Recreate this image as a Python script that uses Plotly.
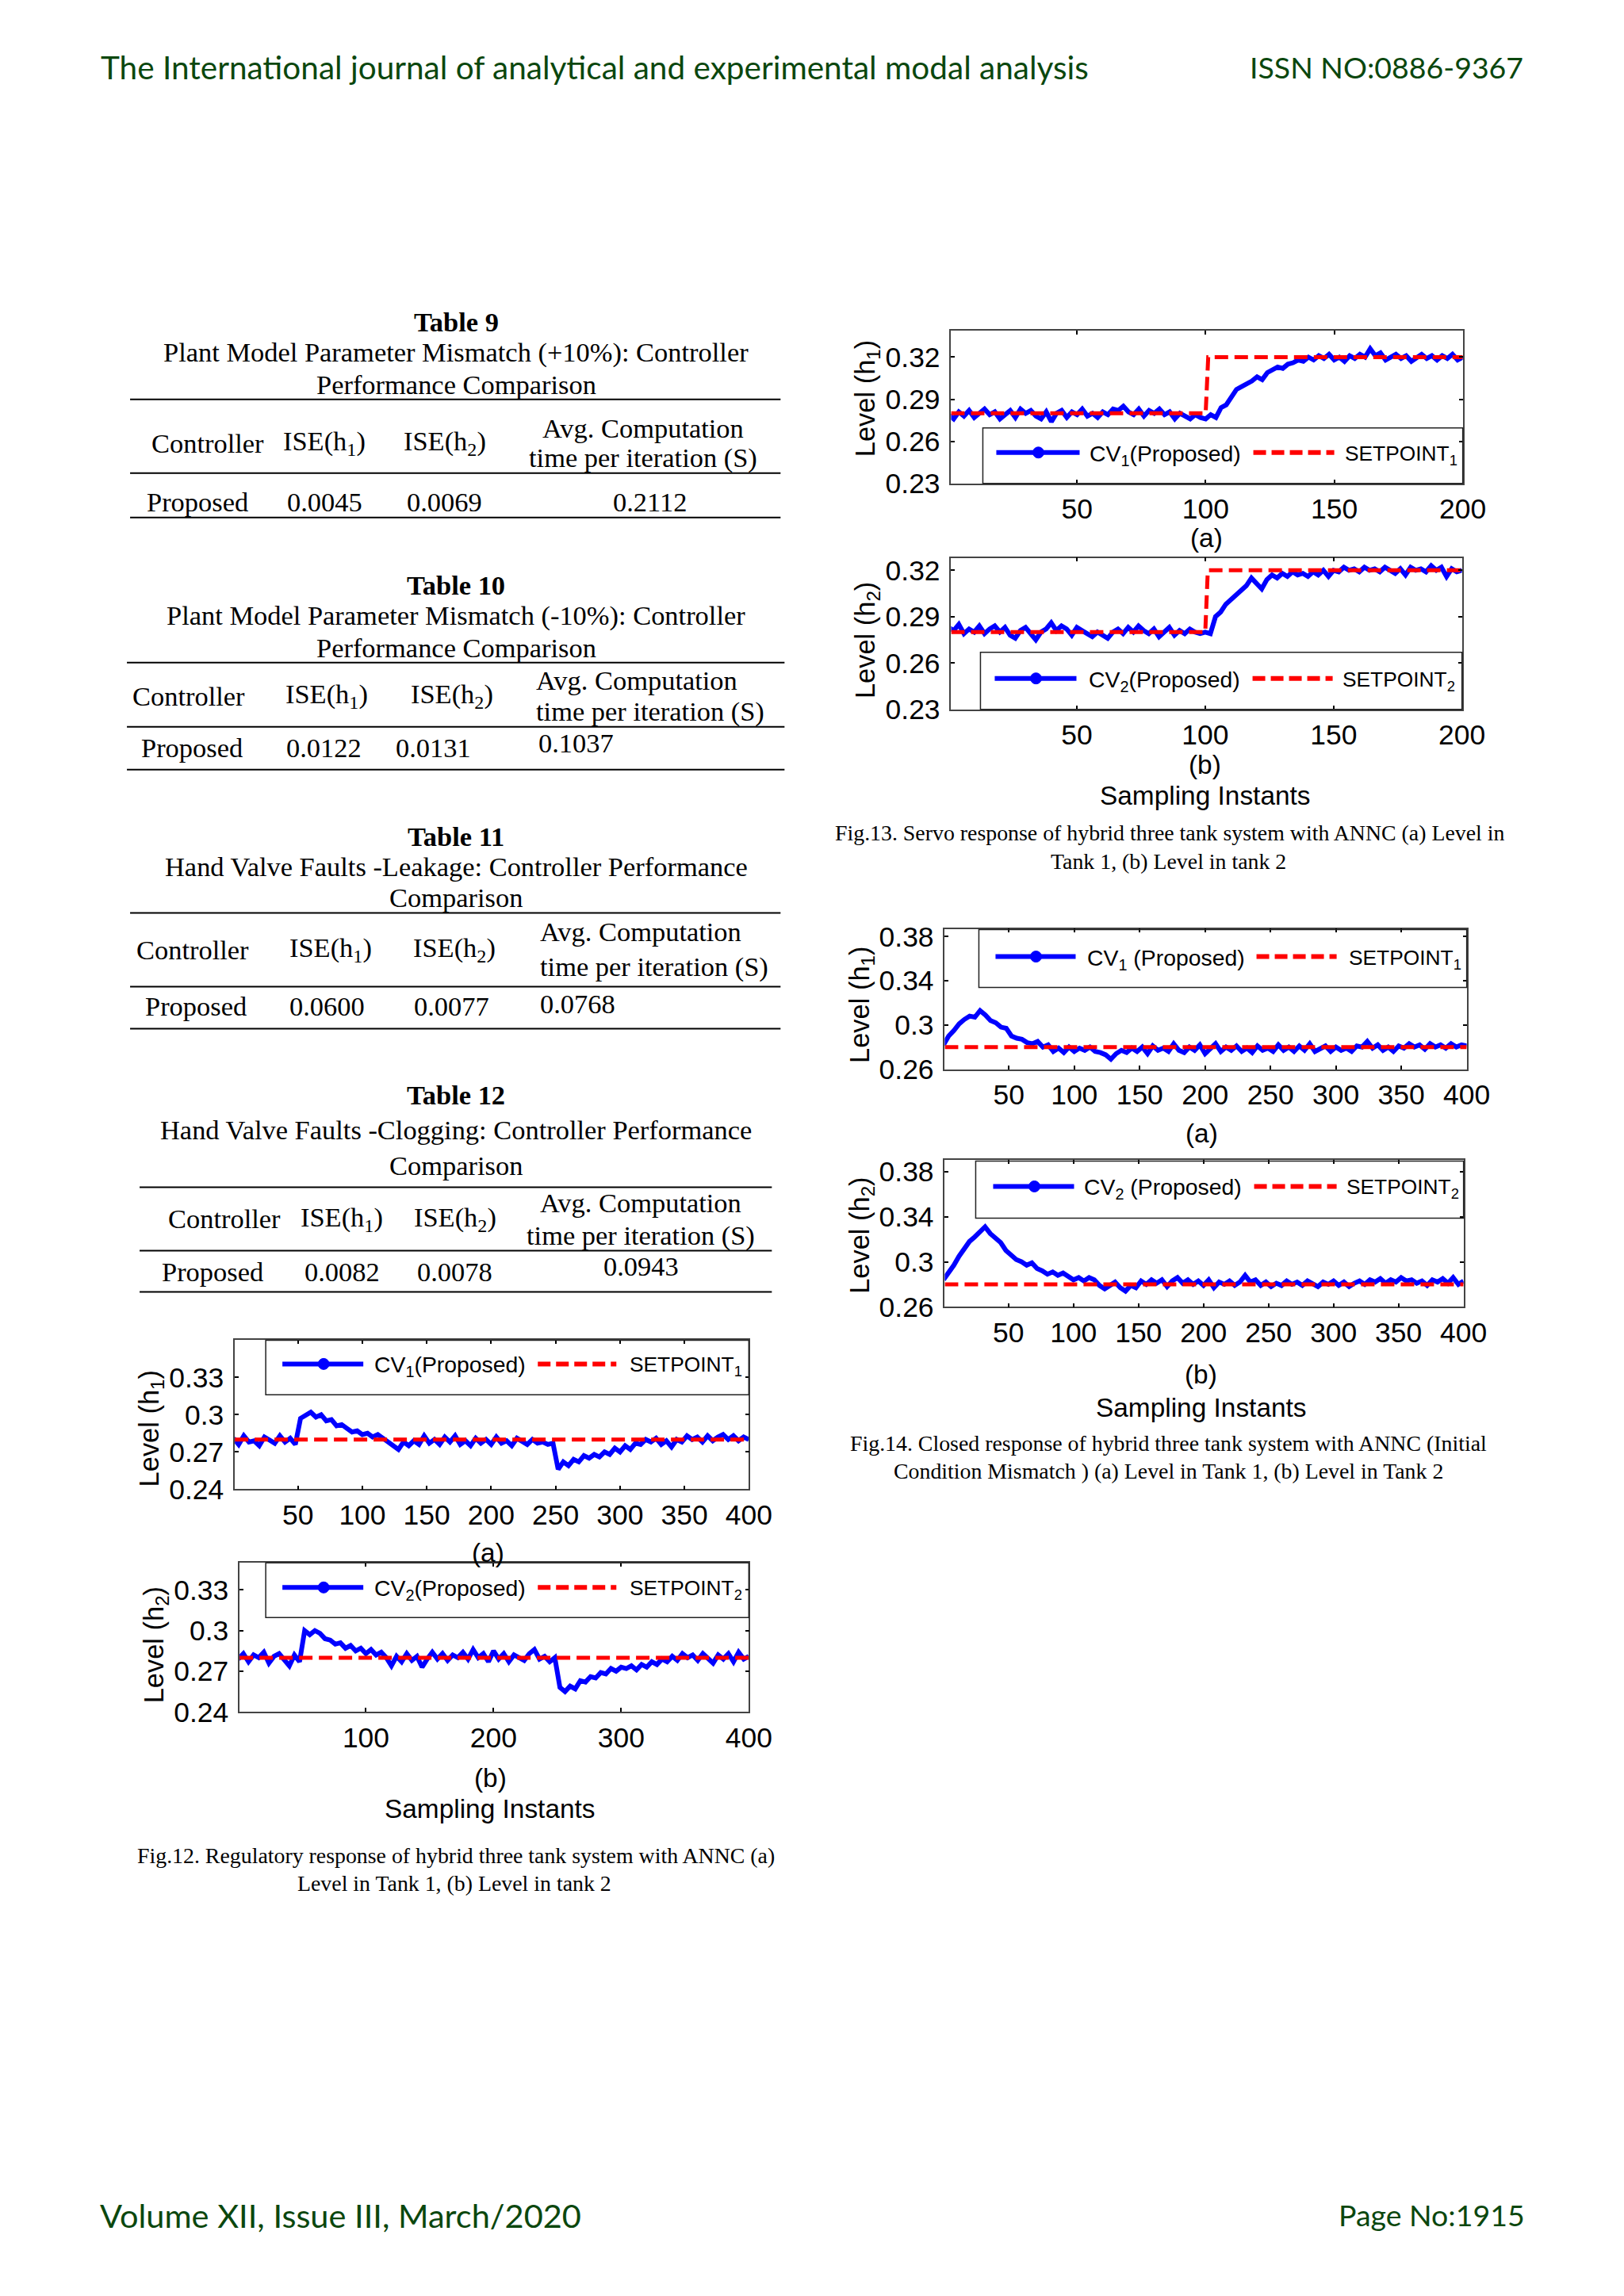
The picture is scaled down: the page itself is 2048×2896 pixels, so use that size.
import plotly.graph_objects as go

W, H = 2048, 2896

# ---------------- data ----------------
# Fig.12 regulatory response, samples every 4 instants (0..400)
fig12_cv1 = [0.281, 0.276, 0.283, 0.278, 0.279, 0.275, 0.282, 0.280, 0.277, 0.283, 0.278, 0.281, 0.276,
             0.297, 0.299, 0.302, 0.298, 0.300, 0.295, 0.296, 0.291, 0.292, 0.289, 0.286, 0.287, 0.284,
             0.285, 0.282, 0.284, 0.281, 0.279, 0.276, 0.272, 0.278, 0.275, 0.279, 0.276, 0.283, 0.277,
             0.280, 0.276, 0.282, 0.278, 0.283, 0.276, 0.279, 0.275, 0.281, 0.277, 0.280, 0.276, 0.282,
             0.277, 0.279, 0.275, 0.281, 0.278, 0.276, 0.280, 0.277, 0.278, 0.276, 0.277,
             0.256, 0.262, 0.259, 0.264, 0.262, 0.267, 0.265, 0.268, 0.266, 0.270, 0.268, 0.273, 0.270,
             0.275, 0.272, 0.277, 0.276, 0.280, 0.278, 0.281, 0.276, 0.279, 0.274, 0.280, 0.278, 0.283,
             0.280, 0.282, 0.278, 0.283, 0.279, 0.282, 0.284, 0.280, 0.283, 0.279, 0.282, 0.280]
fig12_cv2 = [0.279, 0.283, 0.277, 0.282, 0.280, 0.284, 0.276, 0.281, 0.283, 0.278, 0.274, 0.282, 0.277,
             0.300, 0.297, 0.300, 0.298, 0.294, 0.293, 0.290, 0.291, 0.287, 0.289, 0.285, 0.287, 0.283,
             0.286, 0.282, 0.284, 0.280, 0.274, 0.281, 0.277, 0.283, 0.278, 0.281, 0.273, 0.279, 0.284,
             0.279, 0.283, 0.278, 0.282, 0.280, 0.284, 0.279, 0.286, 0.280, 0.283, 0.277, 0.285, 0.279,
             0.283, 0.277, 0.282, 0.280, 0.278, 0.283, 0.286, 0.279, 0.281, 0.277, 0.280,
             0.258, 0.255, 0.259, 0.257, 0.263, 0.262, 0.266, 0.265, 0.269, 0.268, 0.272, 0.270, 0.273,
             0.272, 0.274, 0.271, 0.275, 0.273, 0.277, 0.275, 0.279, 0.277, 0.281, 0.278, 0.283, 0.280,
             0.282, 0.278, 0.283, 0.280, 0.276, 0.282, 0.279, 0.283, 0.277, 0.284, 0.279, 0.281]
fig12_sp_x = [1, 400]
fig12_sp = [0.28, 0.28]

# Fig.13 servo response, samples every 2 instants (0..200)
fig13_cv1 = [0.279, 0.276, 0.281, 0.278, 0.282, 0.277, 0.280, 0.283, 0.279, 0.281,
             0.276, 0.279, 0.282, 0.277, 0.283, 0.280, 0.282, 0.278, 0.276, 0.281,
             0.274, 0.280, 0.282, 0.277, 0.281, 0.279, 0.283, 0.278, 0.280, 0.277,
             0.281, 0.279, 0.283, 0.282, 0.285, 0.281, 0.279, 0.283, 0.278, 0.282,
             0.280, 0.283, 0.279, 0.281, 0.276, 0.280, 0.278, 0.276, 0.279, 0.277,
             0.276, 0.279, 0.277, 0.284, 0.286, 0.292, 0.297, 0.299, 0.301, 0.303,
             0.306, 0.304, 0.309, 0.311, 0.313, 0.312, 0.315, 0.316, 0.318, 0.317,
             0.320, 0.318, 0.321, 0.319, 0.322, 0.318, 0.320, 0.317, 0.321, 0.319,
             0.322, 0.320, 0.326, 0.321, 0.323, 0.318, 0.320, 0.322, 0.319, 0.321,
             0.317, 0.320, 0.322, 0.319, 0.321, 0.318, 0.321, 0.319, 0.322, 0.318, 0.320]
fig13_cv2 = [0.283, 0.281, 0.285, 0.279, 0.282, 0.280, 0.284, 0.279, 0.282, 0.284,
             0.280, 0.283, 0.278, 0.276, 0.281, 0.283, 0.279, 0.275, 0.280, 0.282,
             0.286, 0.281, 0.284, 0.282, 0.278, 0.283, 0.281, 0.279, 0.277, 0.280,
             0.278, 0.276, 0.280, 0.282, 0.279, 0.283, 0.280, 0.284, 0.281, 0.279,
             0.282, 0.277, 0.280, 0.283, 0.278, 0.281, 0.279, 0.282, 0.280, 0.279,
             0.280, 0.279, 0.290, 0.293, 0.298, 0.301, 0.304, 0.308, 0.310, 0.315,
             0.311, 0.308, 0.314, 0.317, 0.315, 0.318, 0.316, 0.319, 0.317, 0.318,
             0.316, 0.319, 0.317, 0.320, 0.316, 0.320, 0.319, 0.322, 0.320, 0.321,
             0.319, 0.322, 0.320, 0.321, 0.319, 0.322, 0.320, 0.318, 0.321, 0.317,
             0.322, 0.320, 0.321, 0.319, 0.323, 0.320, 0.322, 0.316, 0.321, 0.319, 0.320]
fig13_sp_x = [1, 100, 101, 200]
fig13_sp = [0.28, 0.28, 0.32, 0.32]

# Fig.14 initial-condition mismatch, samples every 4 instants (0..400)
fig14_cv1 = [0.282, 0.290, 0.295, 0.301, 0.305, 0.308, 0.307, 0.313, 0.309, 0.304, 0.302, 0.298, 0.297,
             0.290, 0.288, 0.287, 0.284, 0.283, 0.285, 0.280, 0.282,
             0.276, 0.279, 0.275, 0.280, 0.276, 0.279, 0.277, 0.280, 0.276, 0.275, 0.273, 0.269, 0.274,
             0.277, 0.275, 0.279, 0.276, 0.280, 0.274, 0.281, 0.277, 0.279, 0.276, 0.283, 0.277, 0.275,
             0.280, 0.277, 0.282, 0.274, 0.279, 0.283, 0.276, 0.280, 0.277, 0.281, 0.276, 0.279, 0.275,
             0.281, 0.277, 0.279, 0.276, 0.282, 0.277, 0.280, 0.276, 0.281, 0.277, 0.283, 0.276, 0.279,
             0.281, 0.276, 0.280, 0.277, 0.279, 0.276, 0.281, 0.280, 0.285, 0.279, 0.282, 0.277, 0.280,
             0.276, 0.281, 0.279, 0.283, 0.280, 0.282, 0.278, 0.283, 0.280, 0.282, 0.279, 0.283, 0.280,
             0.282, 0.281]
fig14_cv2 = [0.284, 0.290, 0.297, 0.305, 0.311, 0.318, 0.322, 0.326, 0.331, 0.325, 0.321, 0.317, 0.310,
             0.306, 0.302, 0.300, 0.297, 0.299, 0.294, 0.292, 0.289, 0.291, 0.288, 0.290, 0.287, 0.284,
             0.286, 0.283, 0.286, 0.284, 0.279, 0.276, 0.279, 0.282, 0.277, 0.274, 0.279, 0.277, 0.283,
             0.280, 0.284, 0.281, 0.284, 0.278, 0.283, 0.286, 0.281, 0.284, 0.280, 0.283, 0.279, 0.284,
             0.277, 0.282, 0.280, 0.283, 0.279, 0.282, 0.288, 0.282, 0.284, 0.279, 0.282, 0.278, 0.281,
             0.279, 0.283, 0.280, 0.282, 0.279, 0.283, 0.281, 0.278, 0.282, 0.280, 0.283, 0.279, 0.282,
             0.278, 0.281, 0.283, 0.280, 0.284, 0.282, 0.285, 0.281, 0.284, 0.282, 0.286, 0.283, 0.284,
             0.281, 0.283, 0.279, 0.284, 0.282, 0.285, 0.281, 0.286, 0.280, 0.283]
fig14_sp_x = [1, 400]
fig14_sp = [0.28, 0.28]

# Table contents
table_titles = ["Table 9", "Table 10", "Table 11", "Table 12"]
table_subtitles = [
    ["Plant Model Parameter Mismatch (+10%): Controller", "Performance Comparison"],
    ["Plant Model Parameter Mismatch (-10%): Controller", "Performance Comparison"],
    ["Hand Valve Faults -Leakage: Controller Performance", "Comparison"],
    ["Hand Valve Faults -Clogging: Controller Performance", "Comparison"],
]
table_controller = ["Proposed", "Proposed", "Proposed", "Proposed"]
table_ise_h1 = ["0.0045", "0.0122", "0.0600", "0.0082"]
table_ise_h2 = ["0.0069", "0.0131", "0.0077", "0.0078"]
table_avg_time = ["0.2112", "0.1037", "0.0768", "0.0943"]

# ---------------- helpers ----------------
# page-position compensation for the photographed page (measured drift)
SX, SY, OY = 1 / 0.985, 1 / 0.990, 12
FS = 1.013

def fx(px):
    return px * SX / W

def fy(py):
    return 1 - (py - OY) * SY / H

def fs(size):
    return size * FS

SANS = "Liberation Sans, Arial, sans-serif"
SERIF = "Liberation Serif, Times New Roman, serif"
HEAD = "Lato, Open Sans, sans-serif"
GREEN = "#0b470e"

annotations = []
shapes = []

def text(t, x, y, size, family=SANS, xanchor="center", color="black", angle=0, weight=None):
    font = dict(size=fs(size), family=family, color=color)
    if weight is not None:
        font["weight"] = weight
    annotations.append(dict(text=t, x=fx(x), y=fy(y), xref="paper", yref="paper",
                            xanchor=xanchor, yanchor="middle", showarrow=False,
                            textangle=angle, font=font))

def hline(x0, x1, y, width=2, color="black", dash="solid"):
    shapes.append(dict(type="line", xref="paper", yref="paper", x0=fx(x0), x1=fx(x1),
                       y0=fy(y), y1=fy(y), line=dict(color=color, width=width, dash=dash)))

# ---------------- header / footer ----------------
text("The International journal of analytical and experimental modal analysis", 125, 87, 40, HEAD, "left", GREEN)
text("ISSN NO:0886-9367", 1922, 87, 37, HEAD, "right", GREEN)
text("Volume XII, Issue III, March/2020", 124, 2797, 41, HEAD, "left", GREEN)
text("Page No:1915", 1924, 2797, 37, HEAD, "right", GREEN)

# ---------------- tables ----------------
TS = 34
tables_geo = [
    dict(title_y=408, sub_y=(447, 487), rules=(506, 599, 655), rx=(164, 984),
         hdr_y=561, avg_y=(542, 580), row_y=635, val_y=635,
         cx=(262, 409, 561), avg_x=811, avg_anchor="center", val_x=819,
         rowx=(249, 409, 560)),
    dict(title_y=740, sub_y=(779, 819), rules=(838, 919, 973), rx=(160, 989),
         hdr_y=880, avg_y=(860, 900), row_y=945, val_y=939,
         cx=(238, 412, 570), avg_x=674, avg_anchor="left", val_x=677,
         rowx=(242, 408, 546)),
    dict(title_y=1057, sub_y=(1095, 1134), rules=(1154, 1247, 1300), rx=(164, 984),
         hdr_y=1200, avg_y=(1177, 1222), row_y=1271, val_y=1268,
         cx=(243, 417, 573), avg_x=679, avg_anchor="left", val_x=679,
         rowx=(247, 412, 569)),
    dict(title_y=1383, sub_y=(1428, 1473), rules=(1500, 1580, 1632), rx=(176, 973),
         hdr_y=1540, avg_y=(1520, 1561), row_y=1607, val_y=1600,
         cx=(283, 431, 574), avg_x=808, avg_anchor="center", val_x=808,
         rowx=(268, 431, 573)),
]
for i, g in enumerate(tables_geo):
    text("<b>%s</b>" % table_titles[i], 575, g["title_y"], TS, SERIF)
    text(table_subtitles[i][0], 575, g["sub_y"][0], TS, SERIF)
    text(table_subtitles[i][1], 575, g["sub_y"][1], TS, SERIF)
    for r in g["rules"]:
        hline(g["rx"][0], g["rx"][1], r, 2)
    text("Controller", g["cx"][0], g["hdr_y"], TS, SERIF)
    text("ISE(h<sub>1</sub>)", g["cx"][1], g["hdr_y"], TS, SERIF)
    text("ISE(h<sub>2</sub>)", g["cx"][2], g["hdr_y"], TS, SERIF)
    text("Avg. Computation", g["avg_x"], g["avg_y"][0], TS, SERIF, g["avg_anchor"])
    text("time per iteration (S)", g["avg_x"], g["avg_y"][1], TS, SERIF, g["avg_anchor"])
    text(table_controller[i], g["rowx"][0], g["row_y"], TS, SERIF)
    text(table_ise_h1[i], g["rowx"][1], g["row_y"], TS, SERIF)
    text(table_ise_h2[i], g["rowx"][2], g["row_y"], TS, SERIF)
    text(table_avg_time[i], g["val_x"], g["val_y"], TS, SERIF, g["avg_anchor"])

# ---------------- plots ----------------
idx4 = lambda n: [4 * k for k in range(n)]
idx2 = lambda n: [2 * k for k in range(n)]

panels = [
    dict(box=(296, 944, 1693, 1881), xr=[1, 400], yr=[0.24, 0.36],
         xt=[50, 100, 150, 200, 250, 300, 350, 400], yt=[0.24, 0.27, 0.30, 0.33],
         ytl=["0.24", "0.27", "0.3", "0.33"],
         cx=idx4(len(fig12_cv1)), cy=fig12_cv1, sx=fig12_sp_x, sy=fig12_sp,
         sub="1", cvsep="", leg=(335, 1693, 1762, 1723), legx=(356, 458, 408, 470, 678, 777, 792),
         ytitle=(190, 1805)),
    dict(box=(302, 944, 1974, 2162), xr=[1, 400], yr=[0.24, 0.35],
         xt=[100, 200, 300, 400], yt=[0.24, 0.27, 0.30, 0.33],
         ytl=["0.24", "0.27", "0.3", "0.33"],
         cx=idx4(len(fig12_cv2)), cy=fig12_cv2, sx=fig12_sp_x, sy=fig12_sp,
         sub="2", cvsep="", leg=(335, 1974, 2043, 2005), legx=(356, 458, 408, 470, 678, 777, 792),
         ytitle=(196, 2078)),
    dict(box=(1199, 1844, 419, 612), xr=[1, 200], yr=[0.23, 0.339],
         xt=[50, 100, 150, 200], yt=[0.23, 0.26, 0.29, 0.32],
         ytl=["0.23", "0.26", "0.29", "0.32"],
         cx=idx2(len(fig13_cv1)), cy=fig13_cv1, sx=fig13_sp_x, sy=fig13_sp,
         sub="1", cvsep="", leg=(1239, 542, 612, 573), legx=(1256, 1361, 1309, 1372, 1580, 1682, 1693),
         ytitle=(1093, 505)),
    dict(box=(1199, 1843, 706, 897), xr=[1, 200], yr=[0.23, 0.328],
         xt=[50, 100, 150, 200], yt=[0.23, 0.26, 0.29, 0.32],
         ytl=["0.23", "0.26", "0.29", "0.32"],
         cx=idx2(len(fig13_cv2)), cy=fig13_cv2, sx=fig13_sp_x, sy=fig13_sp,
         sub="2", cvsep="", leg=(1236, 825, 897, 858), legx=(1254, 1357, 1306, 1371, 1579, 1680, 1690),
         ytitle=(1093, 810)),
    dict(box=(1191, 1849, 1174, 1351), xr=[1, 400], yr=[0.26, 0.387],
         xt=[50, 100, 150, 200, 250, 300, 350, 400], yt=[0.26, 0.30, 0.34, 0.38],
         ytl=["0.26", "0.3", "0.34", "0.38"],
         cx=idx4(len(fig14_cv1)), cy=fig14_cv1, sx=fig14_sp_x, sy=fig14_sp,
         sub="1", cvsep=" ", leg=(1234, 1175, 1248, 1209), legx=(1255, 1356, 1306, 1369, 1584, 1685, 1698),
         ytitle=(1086, 1270)),
    dict(box=(1191, 1845, 1466, 1651), xr=[1, 400], yr=[0.26, 0.39],
         xt=[50, 100, 150, 200, 250, 300, 350, 400], yt=[0.26, 0.30, 0.34, 0.38],
         ytl=["0.26", "0.3", "0.34", "0.38"],
         cx=idx4(len(fig14_cv2)), cy=fig14_cv2, sx=fig14_sp_x, sy=fig14_sp,
         sub="2", cvsep=" ", leg=(1230, 1467, 1539, 1499), legx=(1252, 1354, 1304, 1365, 1581, 1685, 1695),
         ytitle=(1086, 1561)),
]

fig = go.Figure()
layout_axes = {}
for i, p in enumerate(panels):
    n = "" if i == 0 else str(i + 1)
    xa, ya = "x" + n, "y" + n
    x0, x1, y0, y1 = p["box"]
    fig.add_trace(go.Scatter(x=p["cx"], y=p["cy"], mode="lines", xaxis=xa, yaxis=ya,
                             line=dict(color="#0000ff", width=6), showlegend=False,
                             hoverinfo="skip"))
    fig.add_trace(go.Scatter(x=p["sx"], y=p["sy"], mode="lines", xaxis=xa, yaxis=ya,
                             line=dict(color="#ff0000", width=5, dash="17px,8px"),
                             showlegend=False, hoverinfo="skip"))
    common = dict(showline=True, linecolor="#444", linewidth=1.5, mirror="ticks",
                  ticks="inside", ticklen=5, tickwidth=2, tickcolor="black",
                  showgrid=False, zeroline=False, fixedrange=True,
                  tickfont=dict(size=fs(35), family=SANS, color="black"))
    layout_axes["xaxis" + n] = dict(domain=[fx(x0), fx(x1)], anchor=ya, range=p["xr"],
                                    tickvals=p["xt"], ticklabelstandoff=0, **common)
    layout_axes["yaxis" + n] = dict(domain=[fy(y1), fy(y0)], anchor=xa, range=p["yr"],
                                    tickvals=p["yt"], ticktext=p["ytl"],
                                    ticklabelstandoff=5, **common)
    # y-axis title
    text("Level (h<sub>%s</sub>)" % p["sub"], p["ytitle"][0], p["ytitle"][1], 34, SANS, angle=-90)
    # legend box and entries
    lx0, ly0, ly1, liy = p["leg"]
    shapes.append(dict(type="rect", xref="paper", yref="paper", x0=fx(lx0), x1=fx(x1),
                       y0=fy(ly1), y1=fy(ly0), line=dict(color="#222", width=1.5)))
    bx0, bx1, mc, tx, rx0, rx1, stx = p["legx"]
    hline(bx0, bx1, liy, 6, "#0000ff")
    shapes.append(dict(type="circle", xref="paper", yref="paper", x0=fx(mc - 7), x1=fx(mc + 7),
                       y0=fy(liy + 7), y1=fy(liy - 7), fillcolor="#0000ff",
                       line=dict(color="#0000ff", width=1)))
    hline(rx0, rx1, liy, 6, "#ff0000", "16px,7px")
    text("CV<sub>%s</sub>%s(Proposed)" % (p["sub"], p["cvsep"]), tx, liy + 3, 28, SANS, "left")
    text("SETPOINT<sub>%s</sub>" % p["sub"], stx, liy + 3, 26, SANS, "left")

# panel sub-labels and x titles
text("(a)", 615, 1961, 33)
text("(b)", 618, 2245, 33)
text("Sampling Instants", 618, 2284, 33)
text("(a)", 1521, 681, 33)
text("(b)", 1519, 967, 33)
text("Sampling Instants", 1519, 1006, 33)
text("(a)", 1515, 1432, 33)
text("(b)", 1514, 1736, 33)
text("Sampling Instants", 1514, 1778, 33)

# captions
CS = 27.5
text("Fig.12. Regulatory response of hybrid three tank system with ANNC (a)", 575, 2343, CS, SERIF)
text("Level in Tank 1, (b) Level in tank 2", 573, 2378, CS, SERIF)
text("Fig.13. Servo response of hybrid three tank system with ANNC (a) Level in", 1475, 1053, CS, SERIF)
text("Tank 1, (b) Level in tank 2", 1473, 1089, CS, SERIF)
text("Fig.14. Closed response of hybrid three tank system with ANNC (Initial", 1473, 1823, CS, SERIF)
text("Condition Mismatch ) (a) Level in Tank 1, (b) Level in Tank 2", 1473, 1858, CS, SERIF)

fig.update_layout(width=W, height=H, margin=dict(l=0, r=0, t=0, b=0, pad=0),
                  paper_bgcolor="white", plot_bgcolor="white", showlegend=False,
                  annotations=annotations, shapes=shapes, **layout_axes)

page_css = ("var s=document.createElement('style');"
            "s.innerHTML='html,body{margin:0 !important;padding:0 !important;width:2048px;height:2896px;"
            "overflow:hidden !important;} body>div{width:2048px;height:2896px;overflow:hidden;}';"
            "document.head.appendChild(s);")
fig.write_html("out.html", config={"displayModeBar": False}, post_script=page_css)
